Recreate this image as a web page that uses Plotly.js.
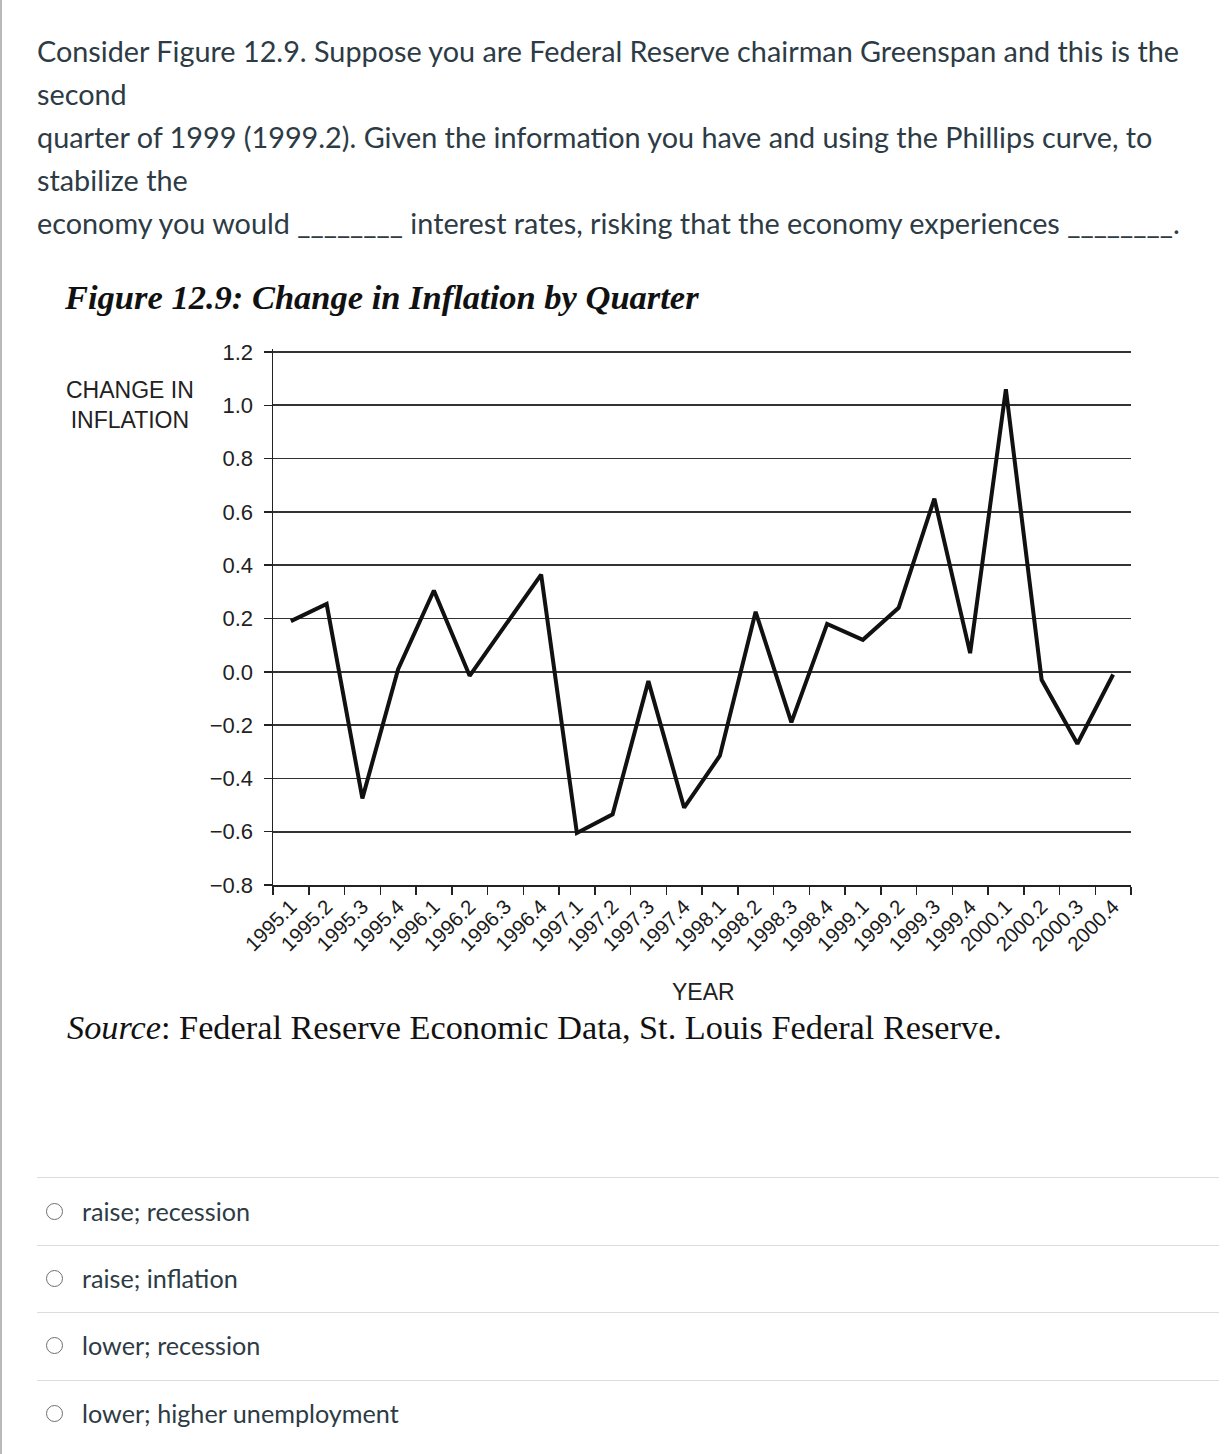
<!DOCTYPE html>
<html>
<head>
<meta charset="utf-8">
<script src="https://cdn.plot.ly/plotly-3.0.1.min.js"></script>
<style>
  html, body { margin: 0; padding: 0; background: #fff; }
  body { width: 1232px; height: 1454px; position: relative; overflow: hidden; }
  #leftbar { position: absolute; left: 0; top: 0; width: 2px; height: 1454px; background: #b9b9b9; }
  #chart { position: absolute; left: 0; top: 0; width: 1232px; height: 1454px; }
  .q { position: absolute; left: 37px; font-family: Lato, sans-serif; font-size: 28.8px; color: #2d3b45; line-height: 43px; white-space: nowrap; }
  .sep { position: absolute; left: 37px; width: 1182px; height: 1px; background: #dcdcdc; }
  .opt { position: absolute; left: 82px; font-family: Lato, sans-serif; font-size: 25.2px; color: #2d3b45; line-height: 40px; white-space: nowrap; }
  .radio { position: absolute; left: 46px; width: 15px; height: 15px; border: 1.6px solid #6f6f6f; border-radius: 50%; background: #fff; }
</style>
</head>
<body>
<div id="leftbar"></div>
<div id="chart"></div>

<div class="q" style="top:30px">Consider Figure 12.9. Suppose you are Federal Reserve chairman Greenspan and this is the</div>
<div class="q" style="top:73px">second</div>
<div class="q" style="top:116px">quarter of 1999 (1999.2). Given the information you have and using the Phillips curve, to</div>
<div class="q" style="top:159px">stabilize the</div>
<div class="q" style="top:202px">economy you would ________ interest rates, risking that the economy experiences ________.</div>

<div class="sep" style="top:1177px"></div>
<div class="radio" style="top:1203px"></div>
<div class="opt" style="top:1191px">raise; recession</div>
<div class="sep" style="top:1245px"></div>
<div class="radio" style="top:1270px"></div>
<div class="opt" style="top:1258px">raise; inflation</div>
<div class="sep" style="top:1312px"></div>
<div class="radio" style="top:1337px"></div>
<div class="opt" style="top:1325px">lower; recession</div>
<div class="sep" style="top:1380px"></div>
<div class="radio" style="top:1405px"></div>
<div class="opt" style="top:1393px">lower; higher unemployment</div>

<script>
// Data
const quarters = ["1995.1","1995.2","1995.3","1995.4","1996.1","1996.2","1996.3","1996.4",
                  "1997.1","1997.2","1997.3","1997.4","1998.1","1998.2","1998.3","1998.4",
                  "1999.1","1999.2","1999.3","1999.4","2000.1","2000.2","2000.3","2000.4"];
const changeInInflation = [0.19, 0.255, -0.475, 0.01, 0.305, -0.015, 0.175, 0.365,
                           -0.605, -0.535, -0.035, -0.51, -0.315, 0.225, -0.19, 0.18,
                           0.12, 0.24, 0.65, 0.07, 1.06, -0.03, -0.27, -0.01];
const yTickVals = [-0.8, -0.6, -0.4, -0.2, 0.0, 0.2, 0.4, 0.6, 0.8, 1.0, 1.2];
const yTickText = ["\u22120.8","\u22120.6","\u22120.4","\u22120.2","0.0","0.2","0.4","0.6","0.8","1.0","1.2"];

const W = 1232, H = 1454;
const L = 273, R = 1131, T = 349, B = 885;
const px = x => (x - L) / (R - L);
const py = y => (B - y) / (B - T);

const trace = {
  type: 'scatter', mode: 'lines',
  x: quarters, y: changeInInflation,
  line: { color: '#111', width: 4, shape: 'linear' },
  hoverinfo: 'x+y', showlegend: false
};

const layout = {
  width: W, height: H,
  margin: { l: L, r: W - R, t: T, b: H - B, pad: 0 },
  paper_bgcolor: 'rgba(0,0,0,0)', plot_bgcolor: 'rgba(0,0,0,0)',
  font: { family: 'Liberation Sans, Arial, sans-serif', color: '#222' },
  title: {
    text: '<b><i>Figure 12.9: Change in Inflation by Quarter</i></b>',
    font: { family: 'Liberation Serif, Times New Roman, serif', size: 34.5, color: '#111' },
    x: 65 / W, xanchor: 'left', xref: 'container',
    y: 1 - 297 / H, yanchor: 'middle', yref: 'container'
  },
  xaxis: {
    type: 'category', range: [-0.5, 23.5], fixedrange: true,
    tickson: 'boundaries', ticks: 'outside', ticklen: 8, tickwidth: 1.5, tickcolor: '#222',
    tickangle: -45, tickfont: { size: 20.5, color: '#1a1a1a' },
    showline: true, linecolor: '#222', linewidth: 1.5, mirror: false,
    showgrid: false, zeroline: false
  },
  yaxis: {
    range: [-0.8, 1.2113], fixedrange: true,
    tickvals: yTickVals, ticktext: yTickText,
    ticks: 'outside', ticklen: 8, tickwidth: 1.5, tickcolor: '#222',
    tickfont: { size: 22, color: '#222' }, ticklabelstandoff: 6,
    showline: true, linecolor: '#222', linewidth: 1.5,
    showgrid: true, gridcolor: '#333', gridwidth: 1.7, zeroline: false
  },
  annotations: [
    { text: 'CHANGE IN<br>INFLATION', xref: 'paper', yref: 'paper',
      x: px(130), y: py(405), xanchor: 'center', yanchor: 'middle', showarrow: false,
      align: 'center', font: { size: 23, color: '#222' } },
    { text: 'YEAR', xref: 'paper', yref: 'paper',
      x: px(703), y: py(992), xanchor: 'center', yanchor: 'middle', showarrow: false,
      font: { size: 23, color: '#222' } },
    { text: '<i>Source</i>: Federal Reserve Economic Data, St. Louis Federal Reserve.',
      xref: 'paper', yref: 'paper', x: px(65), y: py(1027), xanchor: 'left', yanchor: 'middle',
      showarrow: false, font: { family: 'Liberation Serif, Times New Roman, serif', size: 34.3, color: '#111' } }
  ]
};

Plotly.newPlot('chart', [trace], layout, { displayModeBar: false, staticPlot: true });
</script>
</body>
</html>
